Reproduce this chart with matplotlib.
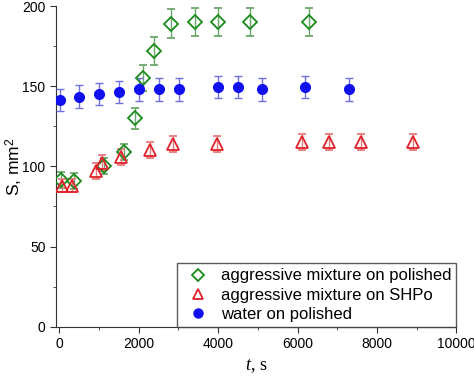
import matplotlib.pyplot as plt
from matplotlib.lines import Line2D
from matplotlib.ticker import MultipleLocator

plt.rcParams['font.family'] = ['Liberation Sans', 'DejaVu Sans']
plt.rcParams['mathtext.fontset'] = 'custom'
plt.rcParams['mathtext.rm'] = 'Liberation Sans'
plt.rcParams['mathtext.it'] = 'Liberation Serif:italic'

# aggressive mixture on polished
t_mix_pol = [60, 370, 1135, 1630, 1910, 2100, 2400, 2820, 3430, 4000, 4810, 6300]
s_mix_pol = [91.5, 91, 100, 109, 130, 155, 172, 189, 190, 190, 190, 190]
e_mix_pol = [5, 5, 5, 5, 6.5, 8, 8.5, 9, 9, 9, 9, 9]

# aggressive mixture on SHPo
t_mix_shpo = [85, 330, 920, 1070, 1555, 2290, 2870, 3970, 6120, 6800, 7600, 8900]
s_mix_shpo = [88, 88, 97, 102, 106, 110, 114, 114, 115.5, 115.5, 115, 115]
e_mix_shpo = [4, 4, 5, 5, 5, 5, 5, 5, 5, 5, 5, 5]

# water on polished
t_water = [20, 505, 1010, 1505, 2010, 2520, 3020, 4010, 4505, 5110, 6200, 7300]
s_water = [141.5, 143.5, 145, 146.5, 148, 148, 148, 149.5, 149.5, 148, 149.5, 148]
e_water = [7, 7, 7, 7, 7, 7, 7, 7, 7, 7, 7, 7]

labels = ['aggressive mixture on polished', 'aggressive mixture on SHPo', 'water on polished']

fig = plt.figure(figsize=(4.74, 3.76), dpi=100)
ax = fig.add_axes([0.118, 0.131, 0.845, 0.853])

ax.errorbar(t_mix_pol, s_mix_pol, yerr=e_mix_pol, fmt='D', mfc='none', mec='#1a8a1a',
            ms=7, mew=1.3, ecolor='#6aa86a', elinewidth=1, capsize=3, zorder=3)
ax.errorbar(t_mix_shpo, s_mix_shpo, yerr=e_mix_shpo, fmt='^', mfc='none', mec='#e0202a',
            ms=8.5, mew=1.3, ecolor='#e87a7a', elinewidth=1, capsize=3, zorder=3)
ax.errorbar(t_water, s_water, yerr=e_water, fmt='o', mfc='#1010ee', mec='#1010ee',
            ms=7, ecolor='#7070dd', elinewidth=1, capsize=3, zorder=3)

ax.set_xlim(-80, 10000)
ax.set_ylim(0, 200)
ax.xaxis.set_major_locator(MultipleLocator(2000))
ax.xaxis.set_minor_locator(MultipleLocator(1000))
ax.yaxis.set_major_locator(MultipleLocator(50))
ax.yaxis.set_minor_locator(MultipleLocator(25))
ax.spines['top'].set_visible(False)
ax.spines['right'].set_visible(False)
ax.spines['left'].set_color('#333333')
ax.spines['bottom'].set_color('#333333')
ax.tick_params(which='major', direction='out', length=4, labelsize=10, colors='#333333',
               labelcolor='black')
ax.tick_params(which='minor', direction='out', length=2.5, colors='#333333')

ax.set_ylabel('S, mm$^2$', fontsize=12.5)
ax.yaxis.set_label_coords(-0.078, 0.5)
ax.set_xlabel('$t$, s', fontsize=13, family='Liberation Serif', labelpad=4)

handles = [
    Line2D([], [], ls='none', marker='D', mfc='none', mec='#1a8a1a', ms=6, mew=1.3),
    Line2D([], [], ls='none', marker='^', mfc='none', mec='#e0202a', ms=7.5, mew=1.3),
    Line2D([], [], ls='none', marker='o', mfc='#1010ee', mec='#1010ee', ms=6.5),
]
leg = ax.legend(handles, labels, loc='lower right', fontsize=12, frameon=True,
                fancybox=False, edgecolor='#333333', handlelength=1.9,
                handletextpad=0.43, borderpad=0.3, labelspacing=0.25,
                borderaxespad=0, bbox_to_anchor=(1.0, 0.0))
leg.get_frame().set_linewidth(1)

fig.savefig('out.png', dpi=100)
